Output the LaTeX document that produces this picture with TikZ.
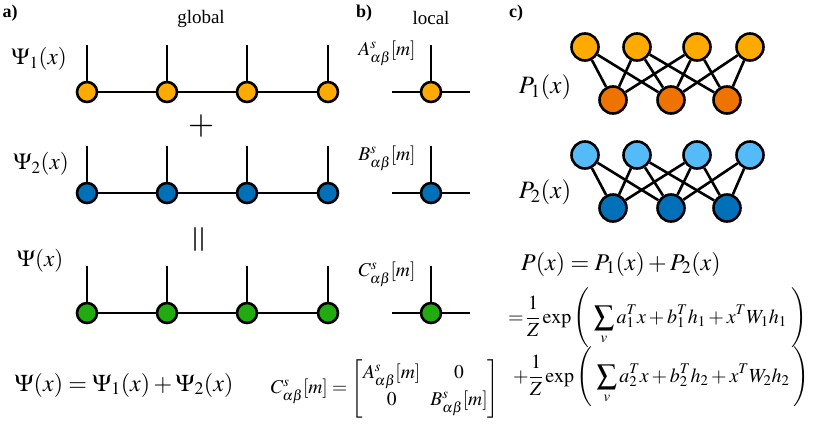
\documentclass[tikz,border=0pt]{standalone}
\usepackage{amsmath}
\usepackage{mathptmx}
\usepackage[no-math]{fontspec}
\setmainfont{Liberation Serif}
\definecolor{orA}{HTML}{FFAA00}
\definecolor{orB}{HTML}{EE7300}
\definecolor{blL}{HTML}{55BBF8}
\definecolor{blD}{HTML}{0070B8}
\definecolor{grn}{HTML}{22AA11}
\begin{document}
\begin{tikzpicture}[x=1pt,y=-1pt,
  edge/.style={line width=2.6pt},
  tn/.style={circle,draw=black,line width=2.6pt,minimum size=20pt,inner sep=0pt},
  rn/.style={circle,draw=black,line width=2.6pt,minimum size=27pt,inner sep=0pt},
  lab/.style={font=\fontsize{19}{22}\selectfont,inner sep=0pt},
  mlab/.style={font=\fontsize{23}{27}\selectfont,inner sep=0pt},
  plab/.style={font=\fontsize{25}{29}\selectfont,inner sep=0pt},
  small/.style={font=\fontsize{19.5}{23}\selectfont,inner sep=0pt},
  big/.style={font=\fontsize{24}{28}\selectfont,inner sep=0pt},
  head/.style={font=\fontsize{18}{21}\selectfont\bfseries,inner sep=0pt}]
\useasboundingbox (0,0) rectangle (825,424);

% ---------- panel a ----------
\node[head] (la) at (10,13) {a)};
\node[lab] (glob) at (201,19) {global};
\foreach \r/\y/\c in {1/92/orA,2/193/blD,3/313/grn}{
  \foreach \i/\x in {1/87,2/167,3/247,4/328}{
    \node[tn,fill=\c] (a\r\i) at (\x,\y) {};
    \coordinate (t\r\i) at (\x,\y-47);
    \draw[edge] (t\r\i) -- (a\r\i);
  }
  \draw[edge] (a\r1) -- (a\r2);
  \draw[edge] (a\r2) -- (a\r3);
  \draw[edge] (a\r3) -- (a\r4);
}
\node[mlab] (psi1) at (39,59) {$\Psi_1(x)$};
\node[mlab] (psi2) at (41,164) {$\Psi_2(x)$};
\node[mlab] (psi) at (40,261) {$\Psi(x)$};
\node[font=\fontsize{34}{34}\selectfont,inner sep=0pt] (plus) at (201,126) {$+$};
\node[font=\fontsize{36}{36}\selectfont,inner sep=0pt,rotate=90] (eq) at (201,240) {$=$};

% ---------- panel b ----------
\node[head] (lb) at (364,13) {b)};
\node[lab] (loc) at (431,18) {local};
\foreach \r/\y/\c/\L in {1/92/orA/A,2/193/blD/B,3/313/grn/C}{
  \node[tn,fill=\c] (b\r) at (431,\y) {};
  \coordinate (bt\r) at (431,\y-47);
  \coordinate (bl\r) at (392,\y);
  \coordinate (br\r) at (470,\y);
  \draw[edge] (bt\r) -- (b\r);
  \draw[edge] (bl\r) -- (b\r);
  \draw[edge] (b\r) -- (br\r);
}
\node[small] (lA) at (387,53) {$A^s_{\alpha\beta}[m]$};
\node[small] (lB) at (387,158) {$B^s_{\alpha\beta}[m]$};
\node[small] (lC) at (387,274) {$C^s_{\alpha\beta}[m]$};

% ---------- panel c ----------
\node[head] (lc) at (516,13) {c)};
\foreach \g/\y/\ct/\cb in {1/47/orA/orB,2/155/blL/blD}{
  \foreach \i/\x in {1/585,2/637,3/697,4/750}{
    \node[rn,fill=\ct] (v\g\i) at (\x,\y) {};
  }
  \foreach \j/\x in {1/613,2/671,3/727}{
    \node[rn,fill=\cb] (h\g\j) at (\x,\y+53) {};
  }
  \foreach \i/\j in {1/1,1/2,2/1,2/2,2/3,3/1,3/2,3/3,4/2,4/3}{
    \draw[edge] (v\g\i) -- (h\g\j);
  }
}
\node[plab] (P1) at (545,87) {$P_1(x)$};
\node[plab] (P2) at (545,192) {$P_2(x)$};

% ---------- equations ----------
\node[big] (eqpsi) at (124,385)
  {$\Psi(x) = \Psi_1(x) + \Psi_2(x)$};
\node[small] (eqC) at (385,389)
  {$C^s_{\alpha\beta}[m] = \begin{bmatrix} A^s_{\alpha\beta}[m] & 0\\ 0 & B^s_{\alpha\beta}[m]\end{bmatrix}$};
\node[font=\fontsize{24}{28}\selectfont,inner sep=0pt,anchor=west] (eqP) at (521,264)
  {$P(x) = P_1(x) + P_2(x)$};
\node[font=\fontsize{20}{24}\selectfont,inner sep=0pt,anchor=west] (eqP1) at (508,318)
  {$=\!\dfrac{1}{Z}\exp\left(\;\displaystyle\sum_{v} a_1^T x + b_1^T h_1 + x^T W_1 h_1\;\right)$};
\node[font=\fontsize{20}{24}\selectfont,inner sep=0pt,anchor=west] (eqP2) at (513,377)
  {$+\dfrac{1}{Z}\exp\left(\;\displaystyle\sum_{v} a_2^T x + b_2^T h_2 + x^T W_2 h_2\;\right)$};
\end{tikzpicture}
\end{document}
